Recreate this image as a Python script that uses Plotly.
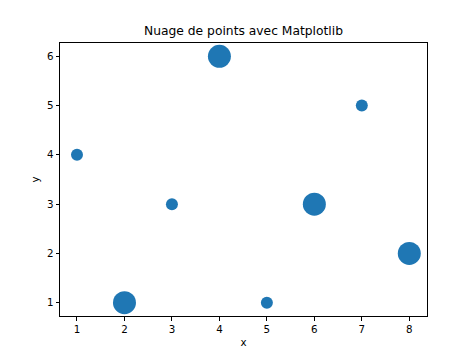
import plotly.graph_objects as go

x_vals = [1, 2, 3, 4, 5, 6, 7, 8]
y_vals = [4, 1, 3, 6, 1, 3, 5, 2]
sizes = [12, 23, 12, 23, 12, 23, 12, 23]

fig = go.Figure()
fig.add_trace(go.Scatter(
    x=x_vals, y=y_vals, mode="markers",
    marker=dict(size=sizes, sizemode="diameter", color="#1f77b4", line=dict(width=0), opacity=1),
    showlegend=False,
))

font = "DejaVu Sans"
axis_common = dict(
    showline=True, linecolor="black", linewidth=1, mirror=True,
    ticks="outside", ticklen=3.5, tickwidth=1, tickcolor="black",
    showgrid=False, zeroline=False, automargin=False,
    tickfont=dict(family=font, size=10.3, color="black"),
)

fig.update_layout(
    width=474, height=355,
    margin=dict(l=60, r=47, t=43, b=39),
    paper_bgcolor="white", plot_bgcolor="white",
    title=dict(text="Nuage de points avec Matplotlib", x=0.5, xref="paper",
               y=1 - 31 / 355, yref="container", yanchor="middle", xanchor="center",
               font=dict(family=font, size=12.3, color="black")),
    xaxis=dict(range=[0.642, 8.373], tickvals=[1, 2, 3, 4, 5, 6, 7, 8],
               title=dict(text="x", font=dict(family=font, size=10.3, color="black"), standoff=4),
               **axis_common),
    yaxis=dict(range=[0.73, 6.27], tickvals=[1, 2, 3, 4, 5, 6],
               title=dict(text="y", font=dict(family=font, size=10.3, color="black"), standoff=5),
               **axis_common),
)

fig.write_html("out.html")
